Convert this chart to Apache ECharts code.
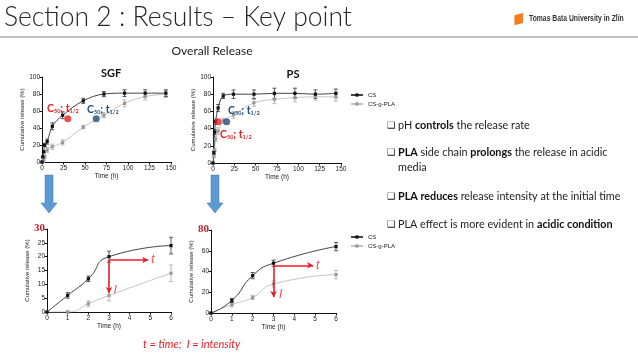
<!DOCTYPE html>
<html><head><meta charset="utf-8">
<script src="https://cdn.jsdelivr.net/npm/echarts@6/dist/echarts.min.js"></script>
<style>html,body{margin:0;padding:0;background:#fff}#c{width:638px;height:359px}</style>
</head><body><div id="c"></div>
<script>
// ---- data ----
const times     = [0, 1, 2, 3, 6, 12, 24, 48, 72, 96, 120, 144];
const sgfCS     = [0, 6, 12, 20, 24, 42, 55, 72, 80, 81, 81, 81];
const sgfCSErr  = [0, 1, 1, 2, 3, 4, 4, 3, 3, 4, 4, 4];
const sgfPLA    = [0, 0, 3, 6, 14, 18, 23, 41, 55, 69, 77, 80];
const sgfPLAErr = [0, 0.5, 1, 2, 3, 3, 3, 2, 3, 4, 4, 4];
const psCS      = [0, 12, 36, 48, 64, 78, 80, 80, 81, 81, 80, 81];
const psCSErr   = [0, 2, 3, 3, 4, 3, 5, 5, 6, 6, 5, 5];
const psPLA     = [0, 8, 15, 28, 37, 49, 56, 70, 74, 76, 77, 77];
const psPLAErr  = [0, 2, 2, 3, 4, 3, 4, 4, 5, 5, 4, 5];
const earlyCount = 5;               // first 6 h shown in the lower charts
const sgfC50CS  = [30, 51];         // red dot (CS) in SGF
const sgfC50PLA = [63, 51];         // blue dot (CS-g-PLA) in SGF
const psC50CS   = [6, 48];
const psC50PLA  = [16, 48];
const sgfArrow  = {t0: 3, t1: 4.9, y: 18.8, yEnd: 6.9};
const psArrow   = {t0: 3, t1: 4.9, y: 46, yEnd: 15.4};
const seriesNames = ['CS', 'CS-g-PLA'];

const pts = (xs, ys, n) => xs.slice(0, n).map((t, i) => [t, ys[i]]);
const errPts = (xs, ys, es, n) => xs.slice(0, n).map((t, i) => [t, ys[i], es[i]]);
const N = times.length;

const AX = 'Liberation Sans';
function errRender(color) {
  return function (params, api) {
    const x = api.value(0), y = api.value(1), e = api.value(2);
    if (!e) return null;
    const a = api.coord([x, y + e]), b = api.coord([x, y - e]);
    const w = 2;
    const st = {stroke: color, lineWidth: 0.8};
    return {type: 'group', children: [
      {type: 'line', shape: {x1: a[0], y1: a[1], x2: b[0], y2: b[1]}, style: st},
      {type: 'line', shape: {x1: a[0] - w, y1: a[1], x2: a[0] + w, y2: a[1]}, style: st},
      {type: 'line', shape: {x1: b[0] - w, y1: b[1], x2: b[0] + w, y2: b[1]}, style: st}
    ]};
  };
}
function xAxis(idx, max, interval) {
  return {type: 'value', gridIndex: idx, min: 0, max: max, interval: interval,
    name: 'Time (h)', nameLocation: 'middle', nameGap: 11,
    nameTextStyle: {fontFamily: AX, fontSize: 6.5, color: '#222'},
    axisLine: {lineStyle: {color: '#111', width: 1}},
    axisTick: {length: 2.5, lineStyle: {color: '#111'}},
    axisLabel: {fontFamily: AX, fontSize: 6.5, color: '#222', margin: 3},
    splitLine: {show: false}};
}
function yAxis(idx, max, interval, redTop) {
  return {type: 'value', gridIndex: idx, min: 0, max: max, interval: interval,
    name: 'Cumulative release (%)', nameLocation: 'middle', nameGap: 12,
    nameTextStyle: {fontFamily: AX, fontSize: 6, color: '#222'},
    axisLine: {show: true, lineStyle: {color: '#111', width: 1}},
    axisTick: {show: true, length: 2.5, lineStyle: {color: '#111'}},
    axisLabel: {fontFamily: AX, fontSize: 6.5, color: '#222', margin: 2,
      formatter: v => (redTop && v === max) ? '{r|' + v + '}' : String(v),
      rich: {r: {fontFamily: 'Liberation Serif', fontWeight: 'bold', fontSize: 11, color: '#c8202a', padding: [0, 0, 2, 0]}}},
    splitLine: {show: false}};
}
function lineSeries(name, idx, data, lineColor, markColor, sm) {
  return {type: 'line', name: name, xAxisIndex: idx, yAxisIndex: idx, data: data,
    smooth: sm, symbol: 'rect', symbolSize: 3.2, showSymbol: true,
    lineStyle: {color: lineColor, width: 1}, itemStyle: {color: markColor}, z: 3};
}
function errSeries(idx, data, color) {
  return {type: 'custom', name: 'err', xAxisIndex: idx, yAxisIndex: idx, data: data,
    renderItem: errRender(color), encode: {x: 0, y: 1}, z: 2, silent: true};
}
function dotSeries(idx, p, color) {
  return {type: 'scatter', xAxisIndex: idx, yAxisIndex: idx, data: [p], symbolSize: 7,
    itemStyle: {color: color}, z: 5, silent: true};
}
function arrowSeries(idx, a) {
  return {type: 'line', xAxisIndex: idx, yAxisIndex: idx, data: [], silent: true,
    markLine: {silent: true, symbol: ['none', 'arrow'], symbolSize: [5, 6],
      lineStyle: {color: '#ee1c25', width: 1.6, type: 'solid'}, label: {show: false},
      data: [[{coord: [a.t0, a.y]}, {coord: [a.t1, a.y]}], [{coord: [a.t0, a.y]}, {coord: [a.t0, a.yEnd]}]]}};
}
function letterSeries(idx, p, txt) {
  return {type: 'scatter', xAxisIndex: idx, yAxisIndex: idx, data: [p], symbolSize: 0, silent: true,
    label: {show: true, position: 'inside', formatter: txt,
      fontFamily: 'Liberation Sans', fontStyle: 'italic', fontSize: 12, color: '#ee1c25'}};
}

const early = earlyCount;
const chart = echarts.init(document.getElementById('c'), null, {renderer: 'canvas'});

const blue = '#1f4e79', red = '#ee1c25';
function c50Text(x, y, color) {
  return {type: 'text', x: x, y: y, z: 10, style: {
    text: '{c|C}{s|50}{c|; t}{s|1/2}', verticalAlign: 'middle',
    rich: {c: {fontFamily: 'Lato', fontWeight: 'bold', fontSize: 10.5, fill: color, verticalAlign: 'bottom', lineHeight: 12},
           s: {fontFamily: 'Lato', fontWeight: 'bold', fontSize: 5.5, fill: color, verticalAlign: 'bottom', lineHeight: 12}}}};
}
function blueArrow(cx) {
  return {type: 'polygon', shape: {points: [[cx - 4, 175], [cx + 4, 175], [cx + 4, 203], [cx + 8, 203], [cx, 213], [cx - 8, 203], [cx - 4, 203]]},
    style: {fill: '#5b9bd5', stroke: '#41719c', lineWidth: 0.5}};
}
function bullet(y, rich) {
  return [
    {type: 'text', x: 387, y: y, style: {text: '\u2751', font: '9px DejaVu Sans', fill: '#111', verticalAlign: 'middle'}},
    {type: 'text', x: 398, y: y, style: {text: rich, verticalAlign: 'middle',
      rich: {n: {fontFamily: 'Lato', fontSize: 10.8, fill: '#222'}, b: {fontFamily: 'Lato', fontSize: 10.8, fontWeight: 'bold', fill: '#111'}}}}
  ];
}

const option = {
  animation: false,
  backgroundColor: '#fff',
  grid: [
    {left: 42, top: 77, width: 129, height: 85},
    {left: 213, top: 77, width: 128, height: 86},
    {left: 47, top: 229, width: 124, height: 83},
    {left: 211, top: 230, width: 125, height: 83}
  ],
  xAxis: [xAxis(0, 150, 25), xAxis(1, 150, 25), xAxis(2, 6, 1), xAxis(3, 6, 1)],
  yAxis: [yAxis(0, 100, 20, false), yAxis(1, 100, 20, false), yAxis(2, 30, 5, true), yAxis(3, 80, 20, true)],
  legend: [
    {data: seriesNames, orient: 'vertical', left: 345, top: 87, itemWidth: 12, itemHeight: 4, itemGap: 3,
     textStyle: {fontFamily: AX, fontSize: 6, color: '#222'}, selectedMode: false},
    {data: seriesNames, orient: 'vertical', left: 345, top: 229, itemWidth: 12, itemHeight: 4, itemGap: 3,
     textStyle: {fontFamily: AX, fontSize: 6, color: '#222'}, selectedMode: false}
  ],
  series: [
    errSeries(0, errPts(times, sgfPLA, sgfPLAErr, N), '#aaa'),
    errSeries(0, errPts(times, sgfCS, sgfCSErr, N), '#333'),
    lineSeries('CS-g-PLA', 0, pts(times, sgfPLA, N), '#c4c4c4', '#9a9a9a', 0.35),
    lineSeries('CS', 0, pts(times, sgfCS, N), '#444', '#111', 0.35),
    dotSeries(0, sgfC50CS, red), dotSeries(0, sgfC50PLA, blue),

    errSeries(1, errPts(times, psPLA, psPLAErr, N), '#aaa'),
    errSeries(1, errPts(times, psCS, psCSErr, N), '#333'),
    lineSeries('CS-g-PLA', 1, pts(times, psPLA, N), '#c4c4c4', '#9a9a9a', 0.35),
    lineSeries('CS', 1, pts(times, psCS, N), '#444', '#111', 0.35),
    dotSeries(1, psC50CS, red), dotSeries(1, psC50PLA, blue),

    errSeries(2, errPts(times, sgfPLA, sgfPLAErr, early), '#aaa'),
    errSeries(2, errPts(times, sgfCS, sgfCSErr, early), '#333'),
    lineSeries('CS-g-PLA', 2, pts(times, sgfPLA, early), '#c4c4c4', '#9a9a9a', 0.6),
    lineSeries('CS', 2, pts(times, sgfCS, early), '#444', '#111', 0.6),
    arrowSeries(2, sgfArrow),
    letterSeries(2, [sgfArrow.t1 + 0.22, sgfArrow.y], 't'),
    letterSeries(2, [sgfArrow.t0 + 0.3, sgfArrow.yEnd + 0.8], 'I'),

    errSeries(3, errPts(times, psPLA, psPLAErr, early), '#aaa'),
    errSeries(3, errPts(times, psCS, psCSErr, early), '#333'),
    lineSeries('CS-g-PLA', 3, pts(times, psPLA, early), '#c4c4c4', '#9a9a9a', 0.6),
    lineSeries('CS', 3, pts(times, psCS, early), '#444', '#111', 0.6),
    arrowSeries(3, psArrow),
    letterSeries(3, [psArrow.t1 + 0.22, psArrow.y], 't'),
    letterSeries(3, [psArrow.t0 + 0.35, psArrow.yEnd + 2], 'I')
  ],
  graphic: [
    {type: 'text', x: 4, y: 17, style: {text: 'Section 2 : Results \u2013 Key point', font: '300 26.5px Lato', fill: '#262626', verticalAlign: 'middle'}},
    {type: 'rect', shape: {x: 0, y: 36, width: 638, height: 2}, style: {fill: '#c0c0c0'}},
    {type: 'polygon', shape: {points: [[515, 15], [523, 13], [523, 23], [515, 25]]}, style: {fill: '#f47b20'}},
    {type: 'polygon', shape: {points: [[514, 16], [515, 15], [515, 25], [514, 25]]}, style: {fill: '#f9b27a'}},
    {type: 'text', x: 529, y: 19, scaleX: 0.8, scaleY: 1,
     style: {text: 'Tomas Bata University in Zl\u00edn', font: 'bold 8.5px "Liberation Sans", sans-serif', fill: '#333', verticalAlign: 'middle'}},
    {type: 'text', x: 212, y: 51, style: {text: 'Overall Release', font: '12px Lato', fill: '#222', align: 'center', verticalAlign: 'middle'}},
    {type: 'text', x: 111, y: 73, style: {text: 'SGF', font: 'bold 11px Lato', fill: '#111', align: 'center', verticalAlign: 'middle'}},
    {type: 'text', x: 293, y: 74, style: {text: 'PS', font: 'bold 11px Lato', fill: '#111', align: 'center', verticalAlign: 'middle'}},
    c50Text(47, 108, red), c50Text(87, 109, blue), c50Text(228, 110, blue), c50Text(220, 134, red),
    blueArrow(49), blueArrow(215),
    ...bullet(126, '{n|pH }{b|controls}{n| the release rate}'),
    ...bullet(153, '{b|PLA}{n| side chain }{b|prolongs}{n| the release in acidic}'),
    {type: 'text', x: 398, y: 168, style: {text: 'media', font: '10.8px Lato', fill: '#222', verticalAlign: 'middle'}},
    ...bullet(197, '{b|PLA reduces}{n| release intensity at the initial time}'),
    ...bullet(225, '{n|PLA effect is more evident in }{b|acidic condition}'),
    {type: 'text', x: 143, y: 344, style: {text: 't = time;  I = intensity', font: 'italic 11px Lato', fill: '#ee1c25', verticalAlign: 'middle'}}
  ]
};
chart.setOption(option);
</script></body></html>
